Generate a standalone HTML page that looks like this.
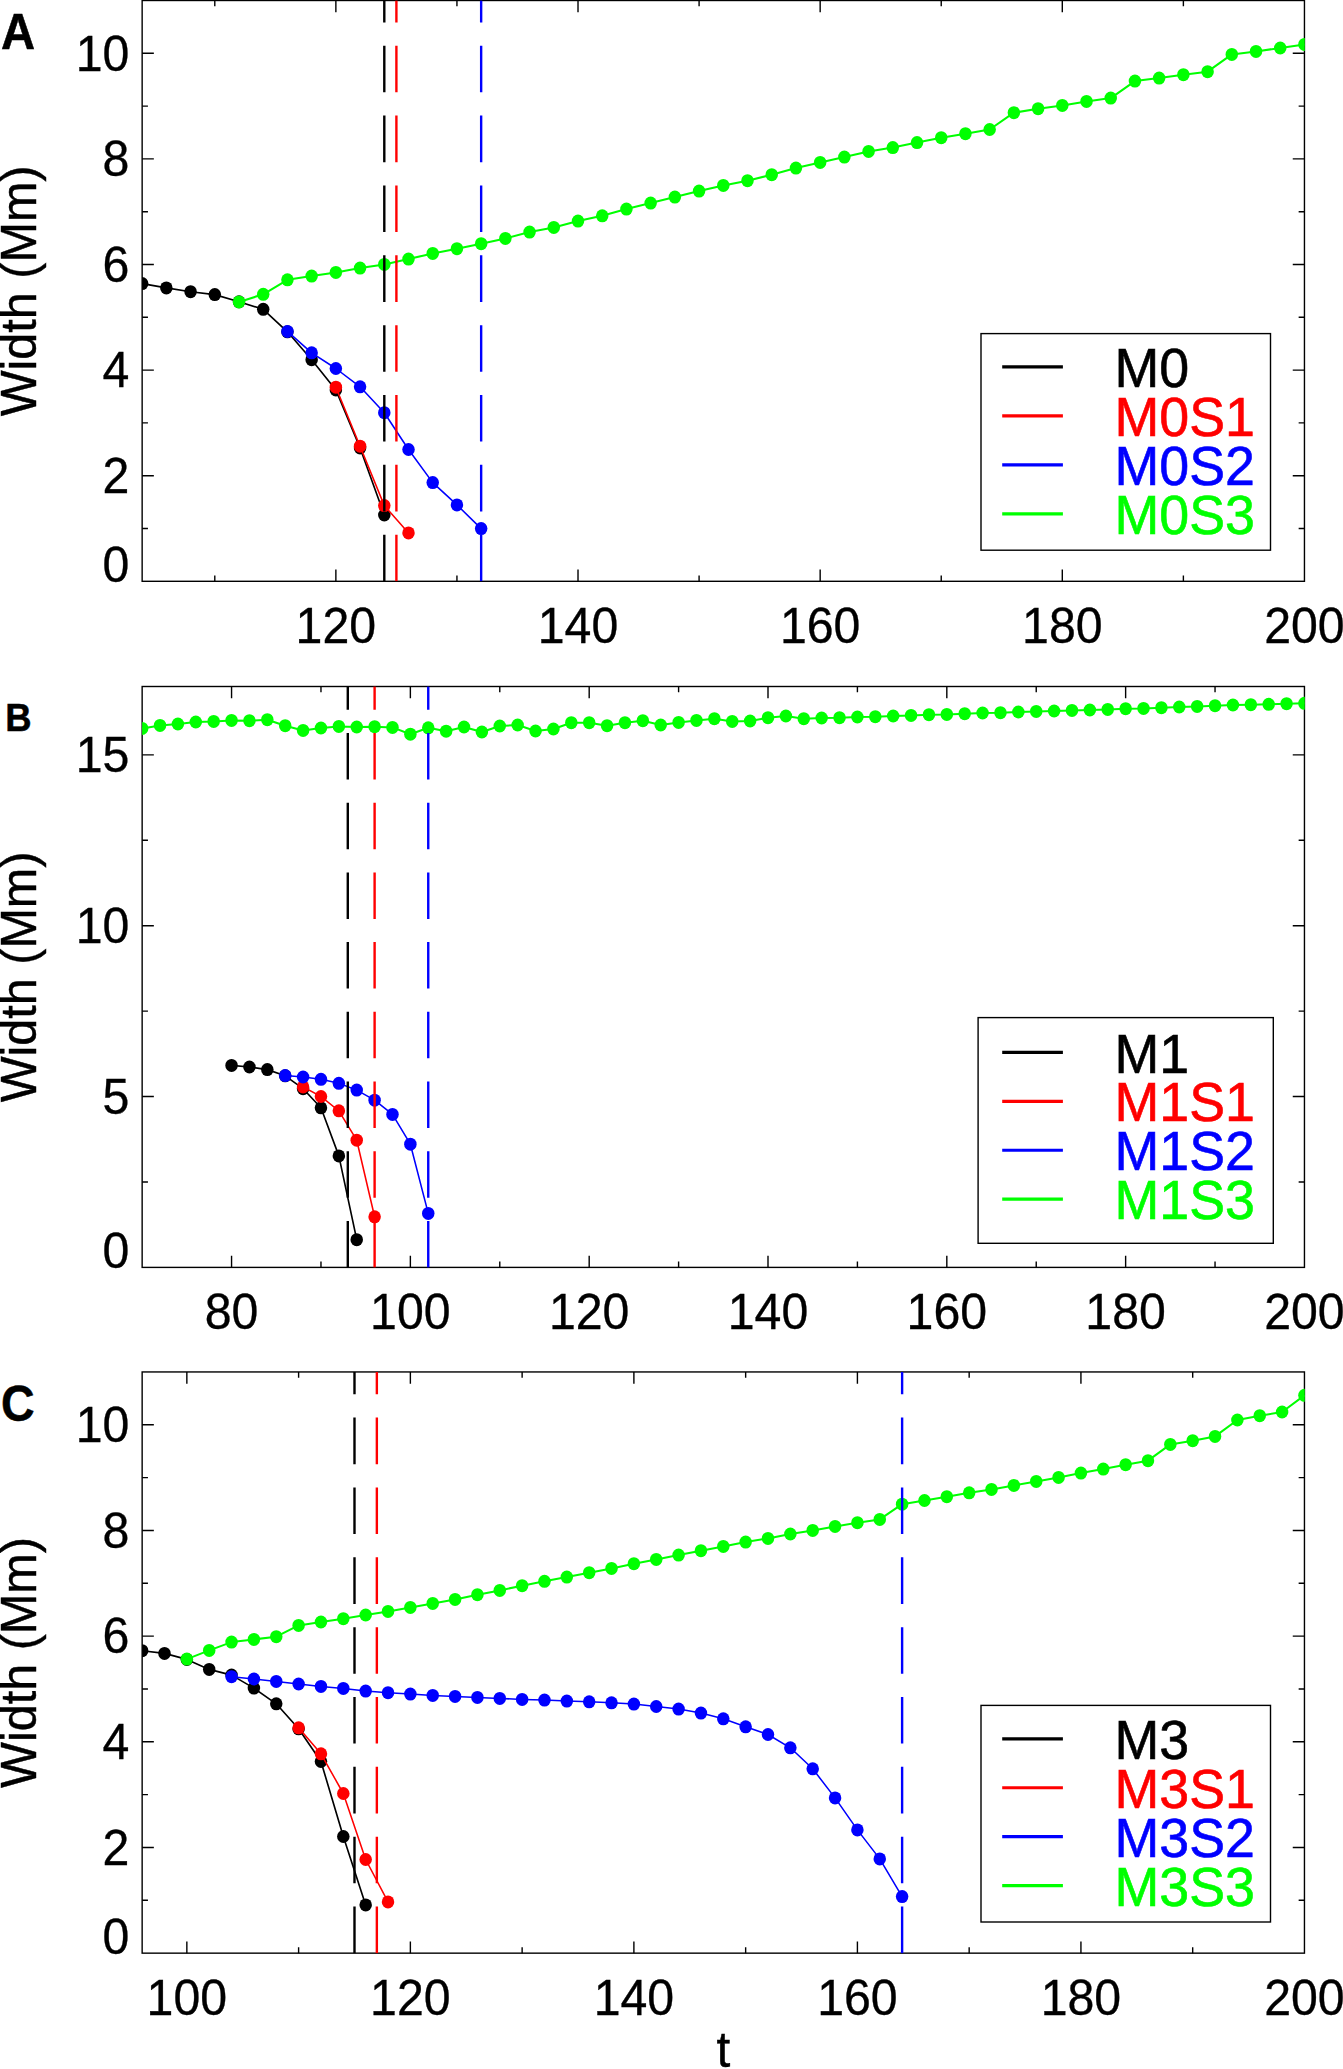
<!DOCTYPE html>
<html lang="en">
<head>
<meta charset="utf-8">
<title>Width vs t</title>
<style>
html,body{margin:0;padding:0;background:#fff;}
body{width:1343px;height:2069px;overflow:hidden;}
svg{display:block;font-family:"Liberation Sans",Arial,Helvetica,sans-serif;}
.frame{fill:none;stroke:#000;stroke-width:1.4;}
.tick{fill:none;stroke:#000;stroke-width:1.4;}
.tl{font-size:50.8px;fill:#000;stroke:#000;stroke-width:0.35;}
.yl{font-size:49.5px;fill:#000;stroke:#000;stroke-width:0.45;}
.pl{font-weight:bold;fill:#000;stroke:#000;stroke-width:0.5;}
.lt{font-size:54.6px;stroke-width:0.6;}
.ln{fill:none;stroke-linejoin:round;}
.vl{stroke-width:2.4;stroke-dasharray:46.6 23.25;}
.ll{stroke-width:3.2;}
</style>
</head>
<body>
<svg width="1343" height="2069" viewBox="0 0 1343 2069">
<rect x="0" y="0" width="1343" height="2069" fill="#ffffff"/>
<g class="panel" id="panelA">
<clipPath id="clipA"><rect x="142.15" y="0.2" width="1162.6" height="581.4"/></clipPath>
<rect class="frame" x="142.15" y="0.5" width="1162.3" height="580.8"/>
<path class="tick" d="M335.87 581.3v-11.7M335.87 0.5v11.7M578.01 581.3v-11.7M578.01 0.5v11.7M820.16 581.3v-11.7M820.16 0.5v11.7M1062.3 581.3v-11.7M1062.3 0.5v11.7M214.79 581.3v-5.8M214.79 0.5v5.8M456.94 581.3v-5.8M456.94 0.5v5.8M699.09 581.3v-5.8M699.09 0.5v5.8M941.23 581.3v-5.8M941.23 0.5v5.8M1183.38 581.3v-5.8M1183.38 0.5v5.8M142.15 475.7h11.7M1304.45 475.7h-11.7M142.15 370.1h11.7M1304.45 370.1h-11.7M142.15 264.5h11.7M1304.45 264.5h-11.7M142.15 158.9h11.7M1304.45 158.9h-11.7M142.15 53.3h11.7M1304.45 53.3h-11.7M142.15 528.5h5.8M1304.45 528.5h-5.8M142.15 422.9h5.8M1304.45 422.9h-5.8M142.15 317.3h5.8M1304.45 317.3h-5.8M142.15 211.7h5.8M1304.45 211.7h-5.8M142.15 106.1h5.8M1304.45 106.1h-5.8"/>
<text class="tl" text-anchor="middle" transform="translate(335.87 642.9) scale(0.95 1)">120</text>
<text class="tl" text-anchor="middle" transform="translate(578.01 642.9) scale(0.95 1)">140</text>
<text class="tl" text-anchor="middle" transform="translate(820.16 642.9) scale(0.95 1)">160</text>
<text class="tl" text-anchor="middle" transform="translate(1062.3 642.9) scale(0.95 1)">180</text>
<text class="tl" text-anchor="middle" transform="translate(1304.45 642.9) scale(0.95 1)">200</text>
<text class="tl" text-anchor="end" transform="translate(129.4 581.7) scale(0.95 1)">0</text>
<text class="tl" text-anchor="end" transform="translate(129.4 492.9) scale(0.95 1)">2</text>
<text class="tl" text-anchor="end" transform="translate(129.4 387.3) scale(0.95 1)">4</text>
<text class="tl" text-anchor="end" transform="translate(129.4 281.7) scale(0.95 1)">6</text>
<text class="tl" text-anchor="end" transform="translate(129.4 176.1) scale(0.95 1)">8</text>
<text class="tl" text-anchor="end" transform="translate(129.4 70.5) scale(0.95 1)">10</text>
<text class="yl" text-anchor="middle" transform="translate(35.9 290.9) rotate(-90) scale(0.981 1)">Width (Mm)</text>
<text class="pl" style="font-size:49.2px" transform="translate(0.9 48.9) scale(0.96 1)">A</text>
<g clip-path="url(#clipA)">
<polyline class="ln" stroke="#000000" stroke-width="1.65" points="142.15,283.6 166.36,287.9 190.58,291.7 214.79,294.6 239.01,301.8 263.22,309.3 287.44,331.8 311.65,359.7 335.87,389.9 360.08,448 384.3,515"/>
<g fill="#000000"><ellipse cx="142.15" cy="283.6" rx="6.25" ry="6.5"/><ellipse cx="166.36" cy="287.9" rx="6.25" ry="6.5"/><ellipse cx="190.58" cy="291.7" rx="6.25" ry="6.5"/><ellipse cx="214.79" cy="294.6" rx="6.25" ry="6.5"/><ellipse cx="239.01" cy="301.8" rx="6.25" ry="6.5"/><ellipse cx="263.22" cy="309.3" rx="6.25" ry="6.5"/><ellipse cx="287.44" cy="331.8" rx="6.25" ry="6.5"/><ellipse cx="311.65" cy="359.7" rx="6.25" ry="6.5"/><ellipse cx="335.87" cy="389.9" rx="6.25" ry="6.5"/><ellipse cx="360.08" cy="448" rx="6.25" ry="6.5"/><ellipse cx="384.3" cy="515" rx="6.25" ry="6.5"/></g>
<polyline class="ln" stroke="#ff0000" stroke-width="1.55" points="335.87,387.2 360.08,446.2 384.3,505.6 408.51,532.9"/>
<g fill="#ff0000"><ellipse cx="335.87" cy="387.2" rx="6.25" ry="6.5"/><ellipse cx="360.08" cy="446.2" rx="6.25" ry="6.5"/><ellipse cx="384.3" cy="505.6" rx="6.25" ry="6.5"/><ellipse cx="408.51" cy="532.9" rx="6.25" ry="6.5"/></g>
<polyline class="ln" stroke="#0000ff" stroke-width="1.55" points="287.44,331.4 311.65,352.8 335.87,368.5 360.08,386.8 384.3,412.7 408.51,449.5 432.73,482.6 456.94,504.9 481.15,528.6"/>
<g fill="#0000ff"><ellipse cx="287.44" cy="331.4" rx="6.25" ry="6.5"/><ellipse cx="311.65" cy="352.8" rx="6.25" ry="6.5"/><ellipse cx="335.87" cy="368.5" rx="6.25" ry="6.5"/><ellipse cx="360.08" cy="386.8" rx="6.25" ry="6.5"/><ellipse cx="384.3" cy="412.7" rx="6.25" ry="6.5"/><ellipse cx="408.51" cy="449.5" rx="6.25" ry="6.5"/><ellipse cx="432.73" cy="482.6" rx="6.25" ry="6.5"/><ellipse cx="456.94" cy="504.9" rx="6.25" ry="6.5"/><ellipse cx="481.15" cy="528.6" rx="6.25" ry="6.5"/></g>
<polyline class="ln" stroke="#00ff00" stroke-width="2.05" points="239.01,301.9 263.22,294.3 287.44,279.8 311.65,276.1 335.87,272.4 360.08,268.1 384.3,264.4 408.51,259.1 432.73,253.4 456.94,248.7 481.15,243.7 505.37,238.4 529.58,232.1 553.8,227.4 578.01,221.1 602.23,215.8 626.44,209.1 650.66,203.1 674.87,197.1 699.09,191.1 723.3,185.4 747.51,180.7 771.73,174.7 795.94,168.1 820.16,162.4 844.37,157.1 868.59,151.4 892.8,147.6 917.02,142.6 941.23,137.7 965.45,133.7 989.66,129.5 1013.88,112.7 1038.09,108.7 1062.3,105.4 1086.52,101.4 1110.73,98.1 1134.95,81.1 1159.16,78.1 1183.38,74.7 1207.59,71.7 1231.81,54.4 1256.02,51.4 1280.24,48 1304.45,44.4"/>
<g fill="#00ff00"><ellipse cx="239.01" cy="301.9" rx="6.25" ry="6.5"/><ellipse cx="263.22" cy="294.3" rx="6.25" ry="6.5"/><ellipse cx="287.44" cy="279.8" rx="6.25" ry="6.5"/><ellipse cx="311.65" cy="276.1" rx="6.25" ry="6.5"/><ellipse cx="335.87" cy="272.4" rx="6.25" ry="6.5"/><ellipse cx="360.08" cy="268.1" rx="6.25" ry="6.5"/><ellipse cx="384.3" cy="264.4" rx="6.25" ry="6.5"/><ellipse cx="408.51" cy="259.1" rx="6.25" ry="6.5"/><ellipse cx="432.73" cy="253.4" rx="6.25" ry="6.5"/><ellipse cx="456.94" cy="248.7" rx="6.25" ry="6.5"/><ellipse cx="481.15" cy="243.7" rx="6.25" ry="6.5"/><ellipse cx="505.37" cy="238.4" rx="6.25" ry="6.5"/><ellipse cx="529.58" cy="232.1" rx="6.25" ry="6.5"/><ellipse cx="553.8" cy="227.4" rx="6.25" ry="6.5"/><ellipse cx="578.01" cy="221.1" rx="6.25" ry="6.5"/><ellipse cx="602.23" cy="215.8" rx="6.25" ry="6.5"/><ellipse cx="626.44" cy="209.1" rx="6.25" ry="6.5"/><ellipse cx="650.66" cy="203.1" rx="6.25" ry="6.5"/><ellipse cx="674.87" cy="197.1" rx="6.25" ry="6.5"/><ellipse cx="699.09" cy="191.1" rx="6.25" ry="6.5"/><ellipse cx="723.3" cy="185.4" rx="6.25" ry="6.5"/><ellipse cx="747.51" cy="180.7" rx="6.25" ry="6.5"/><ellipse cx="771.73" cy="174.7" rx="6.25" ry="6.5"/><ellipse cx="795.94" cy="168.1" rx="6.25" ry="6.5"/><ellipse cx="820.16" cy="162.4" rx="6.25" ry="6.5"/><ellipse cx="844.37" cy="157.1" rx="6.25" ry="6.5"/><ellipse cx="868.59" cy="151.4" rx="6.25" ry="6.5"/><ellipse cx="892.8" cy="147.6" rx="6.25" ry="6.5"/><ellipse cx="917.02" cy="142.6" rx="6.25" ry="6.5"/><ellipse cx="941.23" cy="137.7" rx="6.25" ry="6.5"/><ellipse cx="965.45" cy="133.7" rx="6.25" ry="6.5"/><ellipse cx="989.66" cy="129.5" rx="6.25" ry="6.5"/><ellipse cx="1013.88" cy="112.7" rx="6.25" ry="6.5"/><ellipse cx="1038.09" cy="108.7" rx="6.25" ry="6.5"/><ellipse cx="1062.3" cy="105.4" rx="6.25" ry="6.5"/><ellipse cx="1086.52" cy="101.4" rx="6.25" ry="6.5"/><ellipse cx="1110.73" cy="98.1" rx="6.25" ry="6.5"/><ellipse cx="1134.95" cy="81.1" rx="6.25" ry="6.5"/><ellipse cx="1159.16" cy="78.1" rx="6.25" ry="6.5"/><ellipse cx="1183.38" cy="74.7" rx="6.25" ry="6.5"/><ellipse cx="1207.59" cy="71.7" rx="6.25" ry="6.5"/><ellipse cx="1231.81" cy="54.4" rx="6.25" ry="6.5"/><ellipse cx="1256.02" cy="51.4" rx="6.25" ry="6.5"/><ellipse cx="1280.24" cy="48" rx="6.25" ry="6.5"/><ellipse cx="1304.45" cy="44.4" rx="6.25" ry="6.5"/></g>
<line class="vl" stroke="#000000" x1="384.3" x2="384.3" y1="581.3" y2="0.5"/>
<line class="vl" stroke="#ff0000" x1="396.4" x2="396.4" y1="581.3" y2="0.5"/>
<line class="vl" stroke="#0000ff" x1="481.15" x2="481.15" y1="581.3" y2="0.5"/>
</g>
<rect class="frame" x="981" y="333.6" width="289.5" height="216.6"/>
<line class="ll" stroke="#000000" x1="1002.2" x2="1062.9" y1="366.95" y2="366.95"/>
<text class="lt" fill="#000000" stroke="#000000" transform="translate(1114.5 387.1) scale(0.985 1)">M0</text>
<line class="ll" stroke="#ff0000" x1="1002.2" x2="1062.9" y1="415.9" y2="415.9"/>
<text class="lt" fill="#ff0000" stroke="#ff0000" transform="translate(1114.5 435.95) scale(0.985 1)">M0S1</text>
<line class="ll" stroke="#0000ff" x1="1002.2" x2="1062.9" y1="464.85" y2="464.85"/>
<text class="lt" fill="#0000ff" stroke="#0000ff" transform="translate(1114.5 484.8) scale(0.985 1)">M0S2</text>
<line class="ll" stroke="#00ff00" x1="1002.2" x2="1062.9" y1="513.8" y2="513.8"/>
<text class="lt" fill="#00ff00" stroke="#00ff00" transform="translate(1114.5 533.65) scale(0.985 1)">M0S3</text>
</g>
<g class="panel" id="panelB">
<clipPath id="clipB"><rect x="142.15" y="686.2" width="1162.6" height="581.5"/></clipPath>
<rect class="frame" x="142.15" y="686.5" width="1162.3" height="580.9"/>
<path class="tick" d="M231.56 1267.4v-11.7M231.56 686.5v11.7M410.37 1267.4v-11.7M410.37 686.5v11.7M589.19 1267.4v-11.7M589.19 686.5v11.7M768 1267.4v-11.7M768 686.5v11.7M946.82 1267.4v-11.7M946.82 686.5v11.7M1125.63 1267.4v-11.7M1125.63 686.5v11.7M320.97 1267.4v-5.8M320.97 686.5v5.8M499.78 1267.4v-5.8M499.78 686.5v5.8M678.6 1267.4v-5.8M678.6 686.5v5.8M857.41 1267.4v-5.8M857.41 686.5v5.8M1036.23 1267.4v-5.8M1036.23 686.5v5.8M1215.04 1267.4v-5.8M1215.04 686.5v5.8M142.15 1096.55h11.7M1304.45 1096.55h-11.7M142.15 925.69h11.7M1304.45 925.69h-11.7M142.15 754.84h11.7M1304.45 754.84h-11.7M142.15 1181.97h5.8M1304.45 1181.97h-5.8M142.15 1011.12h5.8M1304.45 1011.12h-5.8M142.15 840.27h5.8M1304.45 840.27h-5.8"/>
<text class="tl" text-anchor="middle" transform="translate(231.56 1329) scale(0.95 1)">80</text>
<text class="tl" text-anchor="middle" transform="translate(410.37 1329) scale(0.95 1)">100</text>
<text class="tl" text-anchor="middle" transform="translate(589.19 1329) scale(0.95 1)">120</text>
<text class="tl" text-anchor="middle" transform="translate(768 1329) scale(0.95 1)">140</text>
<text class="tl" text-anchor="middle" transform="translate(946.82 1329) scale(0.95 1)">160</text>
<text class="tl" text-anchor="middle" transform="translate(1125.63 1329) scale(0.95 1)">180</text>
<text class="tl" text-anchor="middle" transform="translate(1304.45 1329) scale(0.95 1)">200</text>
<text class="tl" text-anchor="end" transform="translate(129.4 1267.8) scale(0.95 1)">0</text>
<text class="tl" text-anchor="end" transform="translate(129.4 1113.75) scale(0.95 1)">5</text>
<text class="tl" text-anchor="end" transform="translate(129.4 942.89) scale(0.95 1)">10</text>
<text class="tl" text-anchor="end" transform="translate(129.4 772.04) scale(0.95 1)">15</text>
<text class="yl" text-anchor="middle" transform="translate(35.9 976.95) rotate(-90) scale(0.981 1)">Width (Mm)</text>
<text class="pl" style="font-size:39.2px" transform="translate(5.3 731.2) scale(0.93 1)">B</text>
<g clip-path="url(#clipB)">
<polyline class="ln" stroke="#000000" stroke-width="1.65" points="231.56,1065.4 249.44,1067 267.32,1069.6 285.2,1075.8 303.08,1088.7 320.97,1107.8 338.85,1155.9 356.73,1239.7"/>
<g fill="#000000"><ellipse cx="231.56" cy="1065.4" rx="6.25" ry="6.5"/><ellipse cx="249.44" cy="1067" rx="6.25" ry="6.5"/><ellipse cx="267.32" cy="1069.6" rx="6.25" ry="6.5"/><ellipse cx="285.2" cy="1075.8" rx="6.25" ry="6.5"/><ellipse cx="303.08" cy="1088.7" rx="6.25" ry="6.5"/><ellipse cx="320.97" cy="1107.8" rx="6.25" ry="6.5"/><ellipse cx="338.85" cy="1155.9" rx="6.25" ry="6.5"/><ellipse cx="356.73" cy="1239.7" rx="6.25" ry="6.5"/></g>
<polyline class="ln" stroke="#ff0000" stroke-width="1.55" points="303.08,1086.9 320.97,1096.5 338.85,1110.8 356.73,1140.2 374.61,1216.8"/>
<g fill="#ff0000"><ellipse cx="303.08" cy="1086.9" rx="6.25" ry="6.5"/><ellipse cx="320.97" cy="1096.5" rx="6.25" ry="6.5"/><ellipse cx="338.85" cy="1110.8" rx="6.25" ry="6.5"/><ellipse cx="356.73" cy="1140.2" rx="6.25" ry="6.5"/><ellipse cx="374.61" cy="1216.8" rx="6.25" ry="6.5"/></g>
<polyline class="ln" stroke="#0000ff" stroke-width="1.55" points="285.2,1075.6 303.08,1077 320.97,1079.3 338.85,1083.3 356.73,1090.1 374.61,1100.2 392.49,1114.4 410.37,1144.2 428.25,1213.4"/>
<g fill="#0000ff"><ellipse cx="285.2" cy="1075.6" rx="6.25" ry="6.5"/><ellipse cx="303.08" cy="1077" rx="6.25" ry="6.5"/><ellipse cx="320.97" cy="1079.3" rx="6.25" ry="6.5"/><ellipse cx="338.85" cy="1083.3" rx="6.25" ry="6.5"/><ellipse cx="356.73" cy="1090.1" rx="6.25" ry="6.5"/><ellipse cx="374.61" cy="1100.2" rx="6.25" ry="6.5"/><ellipse cx="392.49" cy="1114.4" rx="6.25" ry="6.5"/><ellipse cx="410.37" cy="1144.2" rx="6.25" ry="6.5"/><ellipse cx="428.25" cy="1213.4" rx="6.25" ry="6.5"/></g>
<polyline class="ln" stroke="#00ff00" stroke-width="2.05" points="142.15,728.4 160.03,725.4 177.91,724 195.79,722 213.68,721.4 231.56,720.4 249.44,720.7 267.32,719.7 285.2,725.7 303.08,730.4 320.97,728 338.85,726.4 356.73,727 374.61,726.7 392.49,727.4 410.37,734.2 428.25,727.8 446.14,731.2 464.02,727 481.9,732 499.78,726 517.66,725 535.54,731 553.43,729 571.31,722.7 589.19,722.7 607.07,725.7 624.95,722.7 642.83,720.7 660.71,725 678.6,722.4 696.48,720.4 714.36,718.7 732.24,721.4 750.12,721 768,717.7 785.89,716 803.77,718.7 821.65,718 839.53,717.7 857.41,717 875.29,716.7 893.17,716 911.06,715.4 928.94,714.7 946.82,714.4 964.7,713.7 982.58,713 1000.46,712.7 1018.35,712 1036.23,711.4 1054.11,711 1071.99,710.4 1089.87,710 1107.75,709.4 1125.63,708.7 1143.52,708.4 1161.4,707.7 1179.28,707 1197.16,706.4 1215.04,705.7 1232.92,705 1250.81,704.7 1268.69,704.3 1286.57,703.7 1304.45,703.3"/>
<g fill="#00ff00"><ellipse cx="142.15" cy="728.4" rx="6.25" ry="6.5"/><ellipse cx="160.03" cy="725.4" rx="6.25" ry="6.5"/><ellipse cx="177.91" cy="724" rx="6.25" ry="6.5"/><ellipse cx="195.79" cy="722" rx="6.25" ry="6.5"/><ellipse cx="213.68" cy="721.4" rx="6.25" ry="6.5"/><ellipse cx="231.56" cy="720.4" rx="6.25" ry="6.5"/><ellipse cx="249.44" cy="720.7" rx="6.25" ry="6.5"/><ellipse cx="267.32" cy="719.7" rx="6.25" ry="6.5"/><ellipse cx="285.2" cy="725.7" rx="6.25" ry="6.5"/><ellipse cx="303.08" cy="730.4" rx="6.25" ry="6.5"/><ellipse cx="320.97" cy="728" rx="6.25" ry="6.5"/><ellipse cx="338.85" cy="726.4" rx="6.25" ry="6.5"/><ellipse cx="356.73" cy="727" rx="6.25" ry="6.5"/><ellipse cx="374.61" cy="726.7" rx="6.25" ry="6.5"/><ellipse cx="392.49" cy="727.4" rx="6.25" ry="6.5"/><ellipse cx="410.37" cy="734.2" rx="6.25" ry="6.5"/><ellipse cx="428.25" cy="727.8" rx="6.25" ry="6.5"/><ellipse cx="446.14" cy="731.2" rx="6.25" ry="6.5"/><ellipse cx="464.02" cy="727" rx="6.25" ry="6.5"/><ellipse cx="481.9" cy="732" rx="6.25" ry="6.5"/><ellipse cx="499.78" cy="726" rx="6.25" ry="6.5"/><ellipse cx="517.66" cy="725" rx="6.25" ry="6.5"/><ellipse cx="535.54" cy="731" rx="6.25" ry="6.5"/><ellipse cx="553.43" cy="729" rx="6.25" ry="6.5"/><ellipse cx="571.31" cy="722.7" rx="6.25" ry="6.5"/><ellipse cx="589.19" cy="722.7" rx="6.25" ry="6.5"/><ellipse cx="607.07" cy="725.7" rx="6.25" ry="6.5"/><ellipse cx="624.95" cy="722.7" rx="6.25" ry="6.5"/><ellipse cx="642.83" cy="720.7" rx="6.25" ry="6.5"/><ellipse cx="660.71" cy="725" rx="6.25" ry="6.5"/><ellipse cx="678.6" cy="722.4" rx="6.25" ry="6.5"/><ellipse cx="696.48" cy="720.4" rx="6.25" ry="6.5"/><ellipse cx="714.36" cy="718.7" rx="6.25" ry="6.5"/><ellipse cx="732.24" cy="721.4" rx="6.25" ry="6.5"/><ellipse cx="750.12" cy="721" rx="6.25" ry="6.5"/><ellipse cx="768" cy="717.7" rx="6.25" ry="6.5"/><ellipse cx="785.89" cy="716" rx="6.25" ry="6.5"/><ellipse cx="803.77" cy="718.7" rx="6.25" ry="6.5"/><ellipse cx="821.65" cy="718" rx="6.25" ry="6.5"/><ellipse cx="839.53" cy="717.7" rx="6.25" ry="6.5"/><ellipse cx="857.41" cy="717" rx="6.25" ry="6.5"/><ellipse cx="875.29" cy="716.7" rx="6.25" ry="6.5"/><ellipse cx="893.17" cy="716" rx="6.25" ry="6.5"/><ellipse cx="911.06" cy="715.4" rx="6.25" ry="6.5"/><ellipse cx="928.94" cy="714.7" rx="6.25" ry="6.5"/><ellipse cx="946.82" cy="714.4" rx="6.25" ry="6.5"/><ellipse cx="964.7" cy="713.7" rx="6.25" ry="6.5"/><ellipse cx="982.58" cy="713" rx="6.25" ry="6.5"/><ellipse cx="1000.46" cy="712.7" rx="6.25" ry="6.5"/><ellipse cx="1018.35" cy="712" rx="6.25" ry="6.5"/><ellipse cx="1036.23" cy="711.4" rx="6.25" ry="6.5"/><ellipse cx="1054.11" cy="711" rx="6.25" ry="6.5"/><ellipse cx="1071.99" cy="710.4" rx="6.25" ry="6.5"/><ellipse cx="1089.87" cy="710" rx="6.25" ry="6.5"/><ellipse cx="1107.75" cy="709.4" rx="6.25" ry="6.5"/><ellipse cx="1125.63" cy="708.7" rx="6.25" ry="6.5"/><ellipse cx="1143.52" cy="708.4" rx="6.25" ry="6.5"/><ellipse cx="1161.4" cy="707.7" rx="6.25" ry="6.5"/><ellipse cx="1179.28" cy="707" rx="6.25" ry="6.5"/><ellipse cx="1197.16" cy="706.4" rx="6.25" ry="6.5"/><ellipse cx="1215.04" cy="705.7" rx="6.25" ry="6.5"/><ellipse cx="1232.92" cy="705" rx="6.25" ry="6.5"/><ellipse cx="1250.81" cy="704.7" rx="6.25" ry="6.5"/><ellipse cx="1268.69" cy="704.3" rx="6.25" ry="6.5"/><ellipse cx="1286.57" cy="703.7" rx="6.25" ry="6.5"/><ellipse cx="1304.45" cy="703.3" rx="6.25" ry="6.5"/></g>
<line class="vl" style="stroke-dasharray:46.5 23.2" stroke="#000000" x1="347.79" x2="347.79" y1="1267.4" y2="686.5"/>
<line class="vl" style="stroke-dasharray:46.5 23.2" stroke="#ff0000" x1="374.61" x2="374.61" y1="1267.4" y2="686.5"/>
<line class="vl" style="stroke-dasharray:46.5 23.2" stroke="#0000ff" x1="428.25" x2="428.25" y1="1267.4" y2="686.5"/>
</g>
<rect class="frame" x="978.1" y="1017.6" width="295.2" height="225.7"/>
<line class="ll" stroke="#000000" x1="1002.2" x2="1062.9" y1="1052.35" y2="1052.35"/>
<text class="lt" fill="#000000" stroke="#000000" transform="translate(1114.5 1072.5) scale(0.985 1)">M1</text>
<line class="ll" stroke="#ff0000" x1="1002.2" x2="1062.9" y1="1101.3" y2="1101.3"/>
<text class="lt" fill="#ff0000" stroke="#ff0000" transform="translate(1114.5 1121.35) scale(0.985 1)">M1S1</text>
<line class="ll" stroke="#0000ff" x1="1002.2" x2="1062.9" y1="1150.25" y2="1150.25"/>
<text class="lt" fill="#0000ff" stroke="#0000ff" transform="translate(1114.5 1170.2) scale(0.985 1)">M1S2</text>
<line class="ll" stroke="#00ff00" x1="1002.2" x2="1062.9" y1="1199.2" y2="1199.2"/>
<text class="lt" fill="#00ff00" stroke="#00ff00" transform="translate(1114.5 1219.05) scale(0.985 1)">M1S3</text>
</g>
<g class="panel" id="panelC">
<clipPath id="clipC"><rect x="142.15" y="1371.65" width="1162.6" height="581.8"/></clipPath>
<rect class="frame" x="142.15" y="1371.95" width="1162.3" height="581.2"/>
<path class="tick" d="M186.85 1953.15v-11.7M186.85 1371.95v11.7M410.37 1953.15v-11.7M410.37 1371.95v11.7M633.89 1953.15v-11.7M633.89 1371.95v11.7M857.41 1953.15v-11.7M857.41 1371.95v11.7M1080.93 1953.15v-11.7M1080.93 1371.95v11.7M298.61 1953.15v-5.8M298.61 1371.95v5.8M522.13 1953.15v-5.8M522.13 1371.95v5.8M745.65 1953.15v-5.8M745.65 1371.95v5.8M969.17 1953.15v-5.8M969.17 1371.95v5.8M1192.69 1953.15v-5.8M1192.69 1371.95v5.8M142.15 1847.48h11.7M1304.45 1847.48h-11.7M142.15 1741.8h11.7M1304.45 1741.8h-11.7M142.15 1636.13h11.7M1304.45 1636.13h-11.7M142.15 1530.46h11.7M1304.45 1530.46h-11.7M142.15 1424.79h11.7M1304.45 1424.79h-11.7M142.15 1900.31h5.8M1304.45 1900.31h-5.8M142.15 1794.64h5.8M1304.45 1794.64h-5.8M142.15 1688.97h5.8M1304.45 1688.97h-5.8M142.15 1583.3h5.8M1304.45 1583.3h-5.8M142.15 1477.62h5.8M1304.45 1477.62h-5.8"/>
<text class="tl" text-anchor="middle" transform="translate(186.85 2014.75) scale(0.95 1)">100</text>
<text class="tl" text-anchor="middle" transform="translate(410.37 2014.75) scale(0.95 1)">120</text>
<text class="tl" text-anchor="middle" transform="translate(633.89 2014.75) scale(0.95 1)">140</text>
<text class="tl" text-anchor="middle" transform="translate(857.41 2014.75) scale(0.95 1)">160</text>
<text class="tl" text-anchor="middle" transform="translate(1080.93 2014.75) scale(0.95 1)">180</text>
<text class="tl" text-anchor="middle" transform="translate(1304.45 2014.75) scale(0.95 1)">200</text>
<text class="tl" text-anchor="end" transform="translate(129.4 1953.55) scale(0.95 1)">0</text>
<text class="tl" text-anchor="end" transform="translate(129.4 1864.68) scale(0.95 1)">2</text>
<text class="tl" text-anchor="end" transform="translate(129.4 1759) scale(0.95 1)">4</text>
<text class="tl" text-anchor="end" transform="translate(129.4 1653.33) scale(0.95 1)">6</text>
<text class="tl" text-anchor="end" transform="translate(129.4 1547.66) scale(0.95 1)">8</text>
<text class="tl" text-anchor="end" transform="translate(129.4 1441.99) scale(0.95 1)">10</text>
<text class="yl" text-anchor="middle" transform="translate(35.9 1662.55) rotate(-90) scale(0.981 1)">Width (Mm)</text>
<text class="pl" style="font-size:49.2px" transform="translate(0.9 1421.45) scale(0.945 1)">C</text>
<g clip-path="url(#clipC)">
<polyline class="ln" stroke="#000000" stroke-width="1.65" points="142.15,1650.7 164.5,1653.4 186.85,1659.4 209.21,1669.4 231.56,1675.1 253.91,1688.1 276.26,1703.8 298.61,1728.8 320.97,1761.5 343.32,1836.5 365.67,1904.9"/>
<g fill="#000000"><ellipse cx="142.15" cy="1650.7" rx="6.25" ry="6.5"/><ellipse cx="164.5" cy="1653.4" rx="6.25" ry="6.5"/><ellipse cx="186.85" cy="1659.4" rx="6.25" ry="6.5"/><ellipse cx="209.21" cy="1669.4" rx="6.25" ry="6.5"/><ellipse cx="231.56" cy="1675.1" rx="6.25" ry="6.5"/><ellipse cx="253.91" cy="1688.1" rx="6.25" ry="6.5"/><ellipse cx="276.26" cy="1703.8" rx="6.25" ry="6.5"/><ellipse cx="298.61" cy="1728.8" rx="6.25" ry="6.5"/><ellipse cx="320.97" cy="1761.5" rx="6.25" ry="6.5"/><ellipse cx="343.32" cy="1836.5" rx="6.25" ry="6.5"/><ellipse cx="365.67" cy="1904.9" rx="6.25" ry="6.5"/></g>
<polyline class="ln" stroke="#ff0000" stroke-width="1.55" points="298.61,1727.8 320.97,1753.8 343.32,1793.5 365.67,1859.5 388.02,1901.9"/>
<g fill="#ff0000"><ellipse cx="298.61" cy="1727.8" rx="6.25" ry="6.5"/><ellipse cx="320.97" cy="1753.8" rx="6.25" ry="6.5"/><ellipse cx="343.32" cy="1793.5" rx="6.25" ry="6.5"/><ellipse cx="365.67" cy="1859.5" rx="6.25" ry="6.5"/><ellipse cx="388.02" cy="1901.9" rx="6.25" ry="6.5"/></g>
<polyline class="ln" stroke="#0000ff" stroke-width="1.55" points="231.56,1676.7 253.91,1679 276.26,1681.4 298.61,1684 320.97,1686.4 343.32,1688.4 365.67,1691.1 388.02,1692.7 410.37,1694.1 432.73,1695.4 455.08,1696.4 477.43,1697.4 499.78,1698.4 522.13,1699.4 544.48,1700.1 566.84,1701.1 589.19,1701.8 611.54,1702.8 633.89,1704.1 656.24,1706.5 678.6,1709.1 700.95,1713.1 723.3,1718.8 745.65,1726.8 768,1734.5 790.36,1747.8 812.71,1768.8 835.06,1797.9 857.41,1829.9 879.76,1858.9 902.12,1896.6"/>
<g fill="#0000ff"><ellipse cx="231.56" cy="1676.7" rx="6.25" ry="6.5"/><ellipse cx="253.91" cy="1679" rx="6.25" ry="6.5"/><ellipse cx="276.26" cy="1681.4" rx="6.25" ry="6.5"/><ellipse cx="298.61" cy="1684" rx="6.25" ry="6.5"/><ellipse cx="320.97" cy="1686.4" rx="6.25" ry="6.5"/><ellipse cx="343.32" cy="1688.4" rx="6.25" ry="6.5"/><ellipse cx="365.67" cy="1691.1" rx="6.25" ry="6.5"/><ellipse cx="388.02" cy="1692.7" rx="6.25" ry="6.5"/><ellipse cx="410.37" cy="1694.1" rx="6.25" ry="6.5"/><ellipse cx="432.73" cy="1695.4" rx="6.25" ry="6.5"/><ellipse cx="455.08" cy="1696.4" rx="6.25" ry="6.5"/><ellipse cx="477.43" cy="1697.4" rx="6.25" ry="6.5"/><ellipse cx="499.78" cy="1698.4" rx="6.25" ry="6.5"/><ellipse cx="522.13" cy="1699.4" rx="6.25" ry="6.5"/><ellipse cx="544.48" cy="1700.1" rx="6.25" ry="6.5"/><ellipse cx="566.84" cy="1701.1" rx="6.25" ry="6.5"/><ellipse cx="589.19" cy="1701.8" rx="6.25" ry="6.5"/><ellipse cx="611.54" cy="1702.8" rx="6.25" ry="6.5"/><ellipse cx="633.89" cy="1704.1" rx="6.25" ry="6.5"/><ellipse cx="656.24" cy="1706.5" rx="6.25" ry="6.5"/><ellipse cx="678.6" cy="1709.1" rx="6.25" ry="6.5"/><ellipse cx="700.95" cy="1713.1" rx="6.25" ry="6.5"/><ellipse cx="723.3" cy="1718.8" rx="6.25" ry="6.5"/><ellipse cx="745.65" cy="1726.8" rx="6.25" ry="6.5"/><ellipse cx="768" cy="1734.5" rx="6.25" ry="6.5"/><ellipse cx="790.36" cy="1747.8" rx="6.25" ry="6.5"/><ellipse cx="812.71" cy="1768.8" rx="6.25" ry="6.5"/><ellipse cx="835.06" cy="1797.9" rx="6.25" ry="6.5"/><ellipse cx="857.41" cy="1829.9" rx="6.25" ry="6.5"/><ellipse cx="879.76" cy="1858.9" rx="6.25" ry="6.5"/><ellipse cx="902.12" cy="1896.6" rx="6.25" ry="6.5"/></g>
<polyline class="ln" stroke="#00ff00" stroke-width="2.05" points="186.85,1659.1 209.21,1650.4 231.56,1642.1 253.91,1639.4 276.26,1636.7 298.61,1625.4 320.97,1622 343.32,1618.7 365.67,1615 388.02,1611.4 410.37,1607.4 432.73,1603.4 455.08,1599.4 477.43,1594.7 499.78,1590.4 522.13,1585.7 544.48,1581.3 566.84,1577.1 589.19,1572.7 611.54,1568.4 633.89,1563.7 656.24,1559.4 678.6,1555.1 700.95,1550.7 723.3,1546.4 745.65,1542.1 768,1538.4 790.36,1534 812.71,1530.4 835.06,1526.4 857.41,1522.7 879.76,1519.4 902.12,1504.2 924.47,1500.5 946.82,1496.7 969.17,1492.8 991.52,1489.4 1013.87,1485.4 1036.23,1481.4 1058.58,1477.4 1080.93,1473.1 1103.28,1469.1 1125.63,1464.7 1147.99,1460.7 1170.34,1444.4 1192.69,1440.7 1215.04,1436.4 1237.39,1420 1259.75,1415.7 1282.1,1412 1304.45,1395.3"/>
<g fill="#00ff00"><ellipse cx="186.85" cy="1659.1" rx="6.25" ry="6.5"/><ellipse cx="209.21" cy="1650.4" rx="6.25" ry="6.5"/><ellipse cx="231.56" cy="1642.1" rx="6.25" ry="6.5"/><ellipse cx="253.91" cy="1639.4" rx="6.25" ry="6.5"/><ellipse cx="276.26" cy="1636.7" rx="6.25" ry="6.5"/><ellipse cx="298.61" cy="1625.4" rx="6.25" ry="6.5"/><ellipse cx="320.97" cy="1622" rx="6.25" ry="6.5"/><ellipse cx="343.32" cy="1618.7" rx="6.25" ry="6.5"/><ellipse cx="365.67" cy="1615" rx="6.25" ry="6.5"/><ellipse cx="388.02" cy="1611.4" rx="6.25" ry="6.5"/><ellipse cx="410.37" cy="1607.4" rx="6.25" ry="6.5"/><ellipse cx="432.73" cy="1603.4" rx="6.25" ry="6.5"/><ellipse cx="455.08" cy="1599.4" rx="6.25" ry="6.5"/><ellipse cx="477.43" cy="1594.7" rx="6.25" ry="6.5"/><ellipse cx="499.78" cy="1590.4" rx="6.25" ry="6.5"/><ellipse cx="522.13" cy="1585.7" rx="6.25" ry="6.5"/><ellipse cx="544.48" cy="1581.3" rx="6.25" ry="6.5"/><ellipse cx="566.84" cy="1577.1" rx="6.25" ry="6.5"/><ellipse cx="589.19" cy="1572.7" rx="6.25" ry="6.5"/><ellipse cx="611.54" cy="1568.4" rx="6.25" ry="6.5"/><ellipse cx="633.89" cy="1563.7" rx="6.25" ry="6.5"/><ellipse cx="656.24" cy="1559.4" rx="6.25" ry="6.5"/><ellipse cx="678.6" cy="1555.1" rx="6.25" ry="6.5"/><ellipse cx="700.95" cy="1550.7" rx="6.25" ry="6.5"/><ellipse cx="723.3" cy="1546.4" rx="6.25" ry="6.5"/><ellipse cx="745.65" cy="1542.1" rx="6.25" ry="6.5"/><ellipse cx="768" cy="1538.4" rx="6.25" ry="6.5"/><ellipse cx="790.36" cy="1534" rx="6.25" ry="6.5"/><ellipse cx="812.71" cy="1530.4" rx="6.25" ry="6.5"/><ellipse cx="835.06" cy="1526.4" rx="6.25" ry="6.5"/><ellipse cx="857.41" cy="1522.7" rx="6.25" ry="6.5"/><ellipse cx="879.76" cy="1519.4" rx="6.25" ry="6.5"/><ellipse cx="902.12" cy="1504.2" rx="6.25" ry="6.5"/><ellipse cx="924.47" cy="1500.5" rx="6.25" ry="6.5"/><ellipse cx="946.82" cy="1496.7" rx="6.25" ry="6.5"/><ellipse cx="969.17" cy="1492.8" rx="6.25" ry="6.5"/><ellipse cx="991.52" cy="1489.4" rx="6.25" ry="6.5"/><ellipse cx="1013.87" cy="1485.4" rx="6.25" ry="6.5"/><ellipse cx="1036.23" cy="1481.4" rx="6.25" ry="6.5"/><ellipse cx="1058.58" cy="1477.4" rx="6.25" ry="6.5"/><ellipse cx="1080.93" cy="1473.1" rx="6.25" ry="6.5"/><ellipse cx="1103.28" cy="1469.1" rx="6.25" ry="6.5"/><ellipse cx="1125.63" cy="1464.7" rx="6.25" ry="6.5"/><ellipse cx="1147.99" cy="1460.7" rx="6.25" ry="6.5"/><ellipse cx="1170.34" cy="1444.4" rx="6.25" ry="6.5"/><ellipse cx="1192.69" cy="1440.7" rx="6.25" ry="6.5"/><ellipse cx="1215.04" cy="1436.4" rx="6.25" ry="6.5"/><ellipse cx="1237.39" cy="1420" rx="6.25" ry="6.5"/><ellipse cx="1259.75" cy="1415.7" rx="6.25" ry="6.5"/><ellipse cx="1282.1" cy="1412" rx="6.25" ry="6.5"/><ellipse cx="1304.45" cy="1395.3" rx="6.25" ry="6.5"/></g>
<line class="vl" stroke="#000000" x1="354.49" x2="354.49" y1="1953.15" y2="1371.95"/>
<line class="vl" stroke="#ff0000" x1="376.85" x2="376.85" y1="1953.15" y2="1371.95"/>
<line class="vl" stroke="#0000ff" x1="902.12" x2="902.12" y1="1953.15" y2="1371.95"/>
</g>
<rect class="frame" x="981" y="1705.4" width="289.5" height="216.6"/>
<line class="ll" stroke="#000000" x1="1002.2" x2="1062.9" y1="1738.8" y2="1738.8"/>
<text class="lt" fill="#000000" stroke="#000000" transform="translate(1114.5 1758.95) scale(0.985 1)">M3</text>
<line class="ll" stroke="#ff0000" x1="1002.2" x2="1062.9" y1="1787.75" y2="1787.75"/>
<text class="lt" fill="#ff0000" stroke="#ff0000" transform="translate(1114.5 1807.8) scale(0.985 1)">M3S1</text>
<line class="ll" stroke="#0000ff" x1="1002.2" x2="1062.9" y1="1836.7" y2="1836.7"/>
<text class="lt" fill="#0000ff" stroke="#0000ff" transform="translate(1114.5 1856.65) scale(0.985 1)">M3S2</text>
<line class="ll" stroke="#00ff00" x1="1002.2" x2="1062.9" y1="1885.65" y2="1885.65"/>
<text class="lt" fill="#00ff00" stroke="#00ff00" transform="translate(1114.5 1905.5) scale(0.985 1)">M3S3</text>
</g>
<text class="yl" text-anchor="middle" x="723.3" y="2066.8">t</text>
</svg>
</body>
</html>
